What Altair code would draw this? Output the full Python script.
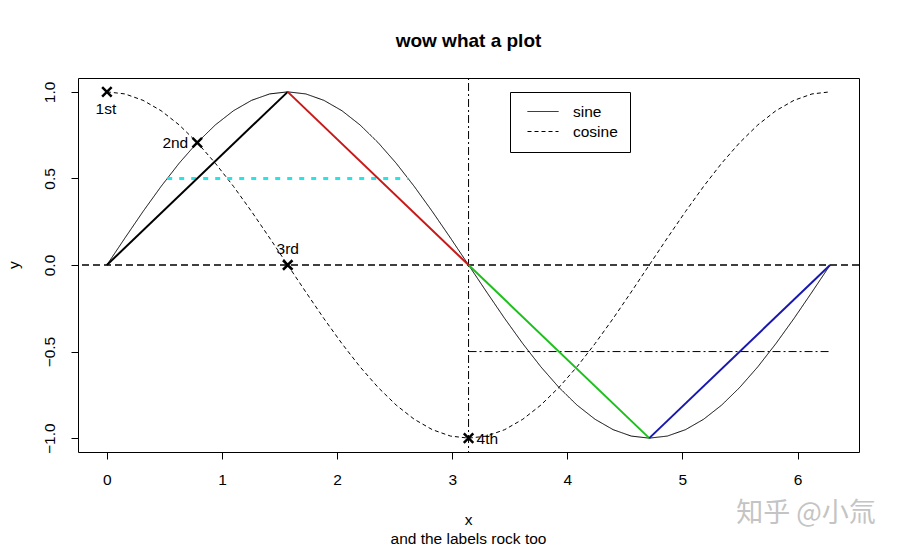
import altair as alt
import pandas as pd

# ---- data ----
x_vals = [0.0, 0.157, 0.314, 0.471, 0.628, 0.785, 0.942, 1.100, 1.257, 1.414, 1.571,
          1.728, 1.885, 2.042, 2.199, 2.356, 2.513, 2.670, 2.827, 2.985, 3.142,
          3.299, 3.456, 3.613, 3.770, 3.927, 4.084, 4.241, 4.398, 4.555, 4.712,
          4.869, 5.027, 5.184, 5.341, 5.498, 5.655, 5.812, 5.969, 6.126, 6.283]
sine_vals = [0.0, 0.156, 0.309, 0.454, 0.588, 0.707, 0.809, 0.891, 0.951, 0.988, 1.0,
             0.988, 0.951, 0.891, 0.809, 0.707, 0.588, 0.454, 0.309, 0.156, 0.0,
             -0.156, -0.309, -0.454, -0.588, -0.707, -0.809, -0.891, -0.951, -0.988, -1.0,
             -0.988, -0.951, -0.891, -0.809, -0.707, -0.588, -0.454, -0.309, -0.156, 0.0]
cosine_vals = [1.0, 0.988, 0.951, 0.891, 0.809, 0.707, 0.588, 0.454, 0.309, 0.156, 0.0,
               -0.156, -0.309, -0.454, -0.588, -0.707, -0.809, -0.891, -0.951, -0.988, -1.0,
               -0.988, -0.951, -0.891, -0.809, -0.707, -0.588, -0.454, -0.309, -0.156, 0.0,
               0.156, 0.309, 0.454, 0.588, 0.707, 0.809, 0.891, 0.951, 0.988, 1.0]

seg_x = [0.0, 1.571, 3.142, 4.712]
seg_y = [0.0, 1.0, 0.0, -1.0]
seg_x2 = [1.571, 3.142, 4.712, 6.283]
seg_y2 = [1.0, 0.0, -1.0, 0.0]
seg_colors = ["#000000", "#c81818", "#1cc01c", "#1818b0"]

pt_x = [0.0, 0.785, 1.571, 3.142]
pt_y = [1.0, 0.707, 0.0, -1.0]
pt_labels = ["1st", "2nd", "3rd", "4th"]

cyan_x, cyan_x2, cyan_y = 0.524, 2.618, 0.5
hline_x, hline_x2, hline_y = 3.142, 6.283, -0.5
vline_x = 3.142
zero_y = 0.0

x_ticks = [0, 1, 2, 3, 4, 5, 6]
y_ticks = [-1.0, -0.5, 0.0, 0.5, 1.0]
x_domain = [-0.251, 6.534]
y_domain = [-1.08, 1.08]

FONT = "Liberation Sans"
FS = 15.5
W, H = 781, 374

curves = pd.DataFrame({
    "x": x_vals * 2,
    "y": sine_vals + cosine_vals,
    "series": ["sine"] * len(x_vals) + ["cosine"] * len(x_vals),
})
segs = pd.DataFrame({"x": seg_x, "y": seg_y, "x2": seg_x2, "y2": seg_y2, "c": seg_colors})
pts = pd.DataFrame({"x": pt_x, "y": pt_y, "label": pt_labels})

xs = alt.Scale(domain=x_domain, nice=False, zero=False)
ys = alt.Scale(domain=y_domain, nice=False, zero=False)

x_axis = alt.Axis(values=x_ticks, format="d", title=None, grid=False, domain=False,
                  tickSize=7, tickColor="black", labelColor="black", labelFont=FONT,
                  labelFontSize=FS, labelPadding=13)
y_axis = alt.Axis(values=y_ticks, format=".1f", title=None, grid=False, domain=False,
                  tickSize=7, tickColor="black", labelColor="black", labelFont=FONT,
                  labelFontSize=FS, labelAngle=270, labelAlign="center",
                  labelBaseline="bottom", labelPadding=14)

base_x = alt.X("x:Q", scale=xs, axis=x_axis)
base_y = alt.Y("y:Q", scale=ys, axis=y_axis)

lines = alt.Chart(curves).mark_line(strokeWidth=1, color="black").encode(
    x=base_x, y=base_y,
    detail="series:N",
    strokeDash=alt.StrokeDash(
        "series:N",
        scale=alt.Scale(domain=["sine", "cosine"], range=[[1, 0], [4, 3]]),
        legend=alt.Legend(
            title=None, orient="none", legendX=432, legendY=14,
            symbolType="stroke", symbolSize=961, symbolStrokeWidth=1,
            symbolStrokeColor="black", symbolOffset=5, labelFont=FONT, labelFontSize=FS,
            labelColor="black", labelOffset=14, rowPadding=4, padding=12,
            clipHeight=15, strokeColor="black", fillColor="white",
        ),
    ),
)

zero_rule = alt.Chart(pd.DataFrame({"y": [zero_y]})).mark_rule(
    color="black", strokeWidth=1.3, strokeDash=[7, 4]).encode(y=alt.Y("y:Q", scale=ys))

v_rule = alt.Chart(pd.DataFrame({"x": [vline_x]})).mark_rule(
    color="black", strokeWidth=1, strokeDash=[2, 3, 8, 3]).encode(x=alt.X("x:Q", scale=xs))

h_seg = alt.Chart(pd.DataFrame({"x": [hline_x], "x2": [hline_x2], "y": [hline_y]})).mark_rule(
    color="black", strokeWidth=1, strokeDash=[8, 3, 2, 3]).encode(
    x=alt.X("x:Q", scale=xs), x2="x2:Q", y=alt.Y("y:Q", scale=ys))

cyan = alt.Chart(pd.DataFrame({"x": [cyan_x], "x2": [cyan_x2], "y": [cyan_y]})).mark_rule(
    color="#28e4e4", strokeWidth=3, strokeDash=[5, 7]).encode(
    x=alt.X("x:Q", scale=xs), x2="x2:Q", y=alt.Y("y:Q", scale=ys))

seg_layer = alt.Chart(segs).mark_rule(strokeWidth=2).encode(
    x=alt.X("x:Q", scale=xs), y=alt.Y("y:Q", scale=ys), x2="x2:Q", y2="y2:Q",
    color=alt.Color("c:N", scale=None))

points = alt.Chart(pts).mark_point(
    shape="M-1,-1L1,1M1,-1L-1,1", filled=False, size=90, strokeWidth=2.5,
    color="black", opacity=1).encode(x=alt.X("x:Q", scale=xs), y=alt.Y("y:Q", scale=ys))

label_styles = {
    "1st": dict(align="center", baseline="middle", dx=-1, dy=17),
    "2nd": dict(align="right", baseline="middle", dx=-9, dy=0),
    "3rd": dict(align="center", baseline="middle", dx=0, dy=-16),
    "4th": dict(align="left", baseline="middle", dx=8, dy=1),
}
label_layers = []
for lab, st in label_styles.items():
    label_layers.append(
        alt.Chart(pts).transform_filter(alt.datum.label == lab).mark_text(
            font=FONT, fontSize=FS, color="black", **st).encode(
            x=alt.X("x:Q", scale=xs), y=alt.Y("y:Q", scale=ys), text="label:N"))

def txt(s, x, y, size=FS, weight="normal", angle=0, color="black", font=FONT):
    return alt.Chart(pd.DataFrame({"t": [s]})).mark_text(
        font=font, fontSize=size, fontWeight=weight, angle=angle, color=color,
        align="center", baseline="middle").encode(
        text="t:N", x=alt.value(x), y=alt.value(y))

title = txt("wow what a plot", W / 2, -37, size=19, weight="bold")
xlab1 = txt("x", W / 2, 442)
xlab2 = txt("and the labels rock too", W / 2, 461)
ylab = txt("y", -64, 187, angle=270)
wm = txt("知乎 @小氚", 728, 436, size=27, color="#c4c4c4", font="Noto Sans CJK SC")

chart = alt.layer(
    zero_rule, v_rule, h_seg, lines, cyan, seg_layer, points, *label_layers,
    title, xlab1, xlab2, ylab, wm,
).properties(
    width=W, height=H,
    autosize=alt.AutoSizeParams(type="none"),
    padding={"left": 78, "top": 78, "right": 41, "bottom": 98},
    background="white",
).configure_view(stroke="black", strokeWidth=1)

chart.save("out.html", embed_options={"renderer": "svg", "actions": False})
